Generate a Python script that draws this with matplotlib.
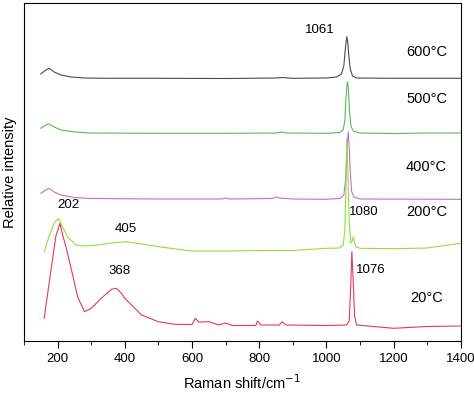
import matplotlib
matplotlib.use("Agg")
import matplotlib.pyplot as plt
from matplotlib.ticker import MultipleLocator

plt.rcParams['font.family'] = ['Liberation Sans', 'DejaVu Sans']

# spectra (x in cm-1, y in arbitrary stacked intensity)
x_600 = [150, 165, 175, 190, 210, 240, 280, 350, 500, 700, 850, 870, 900, 1000,
         1030, 1045, 1052, 1056, 1059, 1061, 1064, 1067, 1071, 1078, 1090, 1200, 1400]
y_600 = [267, 271, 272.7, 269, 266, 264, 263, 262.7, 262.7, 262.5, 263, 263.5, 262.7, 263,
         264, 267, 275, 290, 300, 304.3, 298, 285, 272, 265, 263, 262.7, 262.7]

x_500 = [150, 165, 175, 190, 210, 250, 300, 500, 700, 850, 870, 880, 1000, 1040,
         1050, 1055, 1058, 1061, 1063, 1066, 1069, 1073, 1080, 1100, 1200, 1300, 1400]
y_500 = [212.7, 216, 217, 214, 211, 209, 208, 207.7, 207.7, 208, 209, 208, 207.7, 208.5,
         211, 220, 240, 255, 259.3, 250, 230, 215, 210, 208, 207.5, 208, 208]

x_400 = [150, 165, 175, 190, 210, 250, 300, 500, 690, 700, 710, 840, 850, 860, 900, 1000,
         1040, 1052, 1057, 1061, 1065, 1068, 1071, 1075, 1082, 1100, 1400]
y_400 = [147.7, 151, 152.7, 149, 146, 143.5, 142.5, 142, 142, 143, 142, 142.5, 144, 143, 142, 141.7,
         142.5, 146, 160, 190, 209.3, 195, 170, 150, 144, 142, 141.7]

x_200 = [160, 175, 190, 202, 212, 230, 255, 280, 320, 360, 405, 450, 500, 600, 700, 800, 900,
         1000, 1040, 1050, 1055, 1058, 1061, 1064, 1068, 1073, 1077, 1080, 1084, 1090, 1100,
         1200, 1300, 1400]
y_200 = [89.3, 105, 118, 122.7, 116, 104, 96, 95, 96, 98, 99.3, 97, 94.3, 90, 90, 90.5, 90.5,
         92.7, 93, 96, 110, 150, 203, 170, 120, 98, 100, 104.3, 98, 94, 92.7,
         92.3, 93, 97.7]

x_20 = [160, 180, 195, 207, 215, 225, 240, 260, 280, 300, 330, 360, 375, 390, 400, 420, 450,
        500, 550, 600, 610, 620, 650, 680, 700, 720, 790, 795, 805, 860, 868, 880, 1000,
        1060, 1068, 1072, 1076, 1080, 1084, 1090, 1200, 1300, 1400]
y_20 = [22.7, 70, 105, 117.7, 106, 94, 73, 44, 29.3, 32.7, 42.7, 51.7, 52.7, 47.7, 42.7, 36, 26,
        19.3, 16.7, 16.5, 22.7, 19, 19.3, 16, 18, 15.5, 15.5, 20, 16, 16, 19.3, 16, 15.5,
        16, 20, 50, 89.3, 60, 25, 16, 12.7, 14.5, 15]

temps = ['600°C', '500°C', '400°C', '200°C', '20°C']
temp_label_y = [289, 242, 174.3, 128.7, 42.7]

peak_names = ['1061', '202', '405', '1080', '368', '1076']
peak_label_x = [980, 233, 402, 1111, 384, 1132]
peak_label_y = [311, 136, 111.7, 128.7, 70.3, 71]

series = [(x_600, y_600, '#4a4a4a'), (x_500, y_500, '#5cb85c'), (x_400, y_400, '#c86ad6'),
          (x_200, y_200, '#8ee03c'), (x_20, y_20, '#e23c55')]

fig = plt.figure(figsize=(4.74, 3.95), dpi=100)
ax = fig.add_axes([0.0506, 0.1367, 0.9214, 0.8557])

for (xs, ys, c), lab, ly in zip(series, temps, temp_label_y):
    ax.plot(xs, ys, color=c, lw=0.8)
    ax.text(1298, ly, lab, fontsize=10.5, ha='center', va='center')

for txt, tx, ty in zip(peak_names, peak_label_x, peak_label_y):
    ax.text(tx, ty, txt, fontsize=9.5, ha='center', va='center')

ax.set_xlim(100, 1400)
ax.set_ylim(0, 338)
ax.set_yticks([])
ax.xaxis.set_major_locator(MultipleLocator(200))
ax.xaxis.set_minor_locator(MultipleLocator(100))
ax.tick_params(axis='x', which='major', length=5, labelsize=9.5, direction='out')
ax.tick_params(axis='x', which='minor', length=3, direction='out')
ax.set_xlabel('Raman shift/cm$^{-1}$', fontsize=10.5, labelpad=6)
ax.set_ylabel('Relative intensity', fontsize=10.5, labelpad=5)

fig.savefig('out.png', dpi=100)
